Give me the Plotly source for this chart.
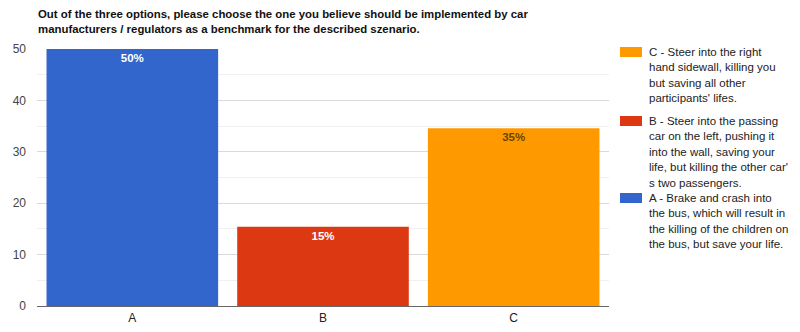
import plotly.graph_objects as go

categories = ["A", "B", "C"]
values = [50, 15.4, 34.6]
labels = ["50%", "15%", "35%"]
colors = ["#3366cc", "#dc3912", "#ff9900"]
label_colors = ["#ffffff", "#ffffff", "#6b4400"]
legend_lines = [
    ["A - Brake and crash into", "the bus, which will result in",
     "the killing of the children on", "the bus, but save your life."],
    ["B - Steer into the passing", "car on the left, pushing it",
     "into the wall, saving your", "life, but killing the other car'",
     "s two passengers."],
    ["C - Steer into the right", "hand sidewall, killing you",
     "but saving all other", "participants' lifes."],
]
title_lines = [
    "Out of the three options, please choose the one you believe should be implemented by car",
    "manufacturers / regulators as a benchmark for the described szenario.",
]

# layout geometry (pixels)
W, H = 800, 332
L, R, T, B = 37, 191, 49, 26
PW, PH = W - L - R, H - T - B


def px_x(px):
    return (px - L) / PW


def px_y(py):
    return (H - B - py) / PH


fig = go.Figure()
for i, c in enumerate(categories):
    fig.add_trace(go.Bar(
        x=[c], y=[values[i]], name=c,
        marker=dict(color=colors[i], line=dict(width=0)),
        text=[labels[i]], textposition="inside", insidetextanchor="end",
        textfont=dict(color=label_colors[i], size=11.5, family="Liberation Sans, Arial"),
        texttemplate="<b>%{text}</b>", showlegend=False,
    ))

fig.update_layout(
    width=W, height=H,
    margin=dict(l=L, r=R, t=T, b=B, autoexpand=False),
    paper_bgcolor="white", plot_bgcolor="white",
    font=dict(family="Liberation Sans, Arial, sans-serif", color="#222"),
    bargap=0.1, barmode="overlay", showlegend=False,
)

# title
for j, line in enumerate(title_lines):
    fig.add_annotation(text="<b>" + line + "</b>", xref="paper", yref="paper",
                       x=px_x(36), y=px_y(14 + j * 15), xanchor="left", yanchor="middle",
                       align="left", showarrow=False,
                       font=dict(size=11.4, color="#111"))

# manual legend (order C, B, A from top)
LINE = 15.4
starts = {2: 52, 1: 121, 0: 198}
for idx in [2, 1, 0]:
    y0 = starts[idx]
    fig.add_shape(type="rect", xref="paper", yref="paper",
                  x0=px_x(620), x1=px_x(642), y0=px_y(y0 - 5), y1=px_y(y0 + 5),
                  fillcolor=colors[idx], line=dict(width=0))
    for k, line in enumerate(legend_lines[idx]):
        fig.add_annotation(text=line, xref="paper", yref="paper",
                           x=px_x(647), y=px_y(y0 + k * LINE), xanchor="left",
                           yanchor="middle", align="left", showarrow=False,
                           font=dict(size=11.5, color="#222"))

fig.update_xaxes(categoryorder="array", categoryarray=categories,
                 showline=True, linecolor="#666", linewidth=1,
                 tickfont=dict(size=12, color="#222"), ticks="",
                 ticklabelstandoff=1, automargin=False)
fig.update_yaxes(range=[0, 50], dtick=10, showgrid=True, gridcolor="#d9d9d9",
                 zeroline=False,
                 minor=dict(dtick=5, showgrid=True, gridcolor="#f0f0f0"),
                 tickfont=dict(size=12, color="#444"), ticks="",
                 ticklabelstandoff=10, automargin=False)
fig.write_html("out.html")
